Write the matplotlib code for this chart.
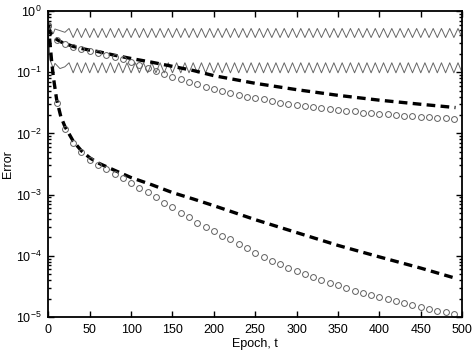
import numpy as np
import matplotlib
matplotlib.use("Agg")
import matplotlib.pyplot as plt
from matplotlib.ticker import LogLocator, NullFormatter, FixedLocator

plt.rcParams['font.family'] = ['Liberation Sans', 'DejaVu Sans']
plt.rcParams['mathtext.fontset'] = 'custom'
plt.rcParams['mathtext.rm'] = 'Liberation Sans'
plt.rcParams['mathtext.it'] = 'Liberation Sans:italic'
plt.rcParams['mathtext.default'] = 'regular'

# ---- data ----
t_dash = [0, 2, 4, 6, 8, 10, 15, 20, 30, 40, 50, 60, 80, 100, 125, 150, 175,
          200, 250, 300, 350, 400, 450, 492]
dash_upper = [0.55, 0.45, 0.41, 0.38, 0.36, 0.345, 0.315, 0.295, 0.265, 0.245,
              0.23, 0.218, 0.19, 0.168, 0.146, 0.125, 0.107, 0.088, 0.066,
              0.052, 0.042, 0.035, 0.030, 0.0265]
dash_lower = [0.6, 0.3, 0.15, 0.085, 0.055, 0.036, 0.019, 0.013, 0.0075, 0.0052,
              0.0040, 0.0033, 0.0025, 0.0019, 0.00145, 0.00108, 0.00085,
              0.00066, 0.00039, 0.00024, 0.000148, 0.000096, 0.000063, 0.000043]

t_circ = list(range(0, 500, 10))
circ_upper = [0.57, 0.34, 0.29, 0.262, 0.242, 0.225, 0.21, 0.195, 0.178, 0.162,
              0.146, 0.131, 0.117, 0.105, 0.095, 0.085, 0.077, 0.070, 0.064, 0.058,
              0.053, 0.049, 0.046, 0.043, 0.040, 0.038, 0.036, 0.034, 0.032, 0.030,
              0.029, 0.028, 0.027, 0.026, 0.025, 0.024, 0.0235, 0.023, 0.022, 0.0215,
              0.021, 0.0205, 0.020, 0.0196, 0.0192, 0.0188, 0.0184, 0.018, 0.0177, 0.0174]
circ_lower = [0.6, 0.032, 0.0118, 0.0071, 0.0050, 0.0037, 0.0030, 0.0026, 0.0022, 0.00185,
              0.00157, 0.0013, 0.0011, 0.00091, 0.00074, 0.00062, 0.00051, 0.00043, 0.00035, 0.0003,
              0.00025, 0.00021, 0.000186, 0.000158, 0.000133, 0.000112, 0.000094, 0.000082, 0.000073, 0.000064,
              0.000056, 0.00005, 0.000045, 0.00004, 0.000036, 0.000033, 0.00003, 0.000027, 0.000025, 0.000023,
              0.000021, 0.0000195, 0.000018, 0.0000167, 0.0000155, 0.0000146, 0.0000135, 0.0000127, 0.0000119, 0.0000113]

t_zig_start = [0, 2, 6, 8, 14, 20]
zig_upper_start = [0.66, 0.52, 0.43, 0.51, 0.48, 0.45]
zig_lower_start = [0.45, 0.16, 0.115, 0.14, 0.115, 0.123]
t_zig = list(range(25, 501, 5))
zig_upper = [0.52, 0.37, 0.52, 0.37, 0.52, 0.37, 0.52, 0.37, 0.52, 0.37,
             0.52, 0.37, 0.52, 0.37, 0.52, 0.37, 0.52, 0.37, 0.52, 0.37,
             0.52, 0.37, 0.52, 0.37, 0.52, 0.37, 0.52, 0.37, 0.52, 0.37,
             0.52, 0.37, 0.52, 0.37, 0.52, 0.37, 0.52, 0.37, 0.52, 0.37,
             0.52, 0.37, 0.52, 0.37, 0.52, 0.37, 0.52, 0.37, 0.52, 0.37,
             0.52, 0.37, 0.52, 0.37, 0.52, 0.37, 0.52, 0.37, 0.52, 0.37,
             0.52, 0.37, 0.52, 0.37, 0.52, 0.37, 0.52, 0.37, 0.52, 0.37,
             0.52, 0.37, 0.52, 0.37, 0.52, 0.37, 0.52, 0.37, 0.52, 0.37,
             0.52, 0.37, 0.52, 0.37, 0.52, 0.37, 0.52, 0.37, 0.52, 0.37,
             0.52, 0.37, 0.52, 0.37, 0.52, 0.37]
zig_lower = [0.143, 0.098, 0.143, 0.098, 0.143, 0.098, 0.143, 0.098, 0.143, 0.098,
             0.143, 0.098, 0.143, 0.098, 0.143, 0.098, 0.143, 0.098, 0.143, 0.098,
             0.143, 0.098, 0.143, 0.098, 0.143, 0.098, 0.143, 0.098, 0.143, 0.098,
             0.143, 0.098, 0.143, 0.098, 0.143, 0.098, 0.143, 0.098, 0.143, 0.098,
             0.143, 0.098, 0.143, 0.098, 0.143, 0.098, 0.143, 0.098, 0.143, 0.098,
             0.143, 0.098, 0.143, 0.098, 0.143, 0.098, 0.143, 0.098, 0.143, 0.098,
             0.143, 0.098, 0.143, 0.098, 0.143, 0.098, 0.143, 0.098, 0.143, 0.098,
             0.143, 0.098, 0.143, 0.098, 0.143, 0.098, 0.143, 0.098, 0.143, 0.098,
             0.143, 0.098, 0.143, 0.098, 0.143, 0.098, 0.143, 0.098, 0.143, 0.098,
             0.143, 0.098, 0.143, 0.098, 0.143, 0.098]

x_ticks = [0, 50, 100, 150, 200, 250, 300, 350, 400, 450, 500]

# ---- figure ----
fig = plt.figure(figsize=(4.74, 3.58), dpi=100)
ax = fig.add_axes([0.102, 0.1145, 0.873, 0.8545])

zig_col = '#666666'
ax.plot(t_zig_start + t_zig, zig_upper_start + zig_upper, color=zig_col, lw=0.7)
ax.plot(t_zig_start + t_zig, zig_lower_start + zig_lower, color=zig_col, lw=0.7)

ax.plot(t_dash, dash_upper, color='black', lw=2.4, dashes=(2.6, 1.6))
ax.plot(t_dash, dash_lower, color='black', lw=2.4, dashes=(2.6, 1.6))

ax.plot(t_circ, circ_upper, ls='none', marker='o', ms=4.2, mfc='none',
        mec='#606060', mew=0.7)
ax.plot(t_circ, circ_lower, ls='none', marker='o', ms=4.2, mfc='none',
        mec='#606060', mew=0.7)

ax.set_yscale('log')
ax.set_xlim(0, 500)
ax.set_ylim(1e-5, 1)
ax.xaxis.set_major_locator(FixedLocator(x_ticks))
ax.yaxis.set_major_locator(LogLocator(base=10, numticks=10))
ax.yaxis.set_minor_locator(LogLocator(base=10, subs=np.arange(2, 10), numticks=20))
ax.yaxis.set_minor_formatter(NullFormatter())

ax.tick_params(which='both', direction='in', top=True, right=True,
               labelsize=9, width=1.0, colors='black')
ax.tick_params(which='major', length=4, pad=5)
ax.tick_params(which='minor', length=2)
for s in ax.spines.values():
    s.set_linewidth(1.3)

ax.set_xlabel('Epoch, t', fontsize=9)
ax.xaxis.set_label_coords(0.5, -0.068)
ax.set_ylabel('Error', fontsize=9)
ax.yaxis.set_label_coords(-0.082, 0.5)

fig.savefig('out.png', dpi=100)
